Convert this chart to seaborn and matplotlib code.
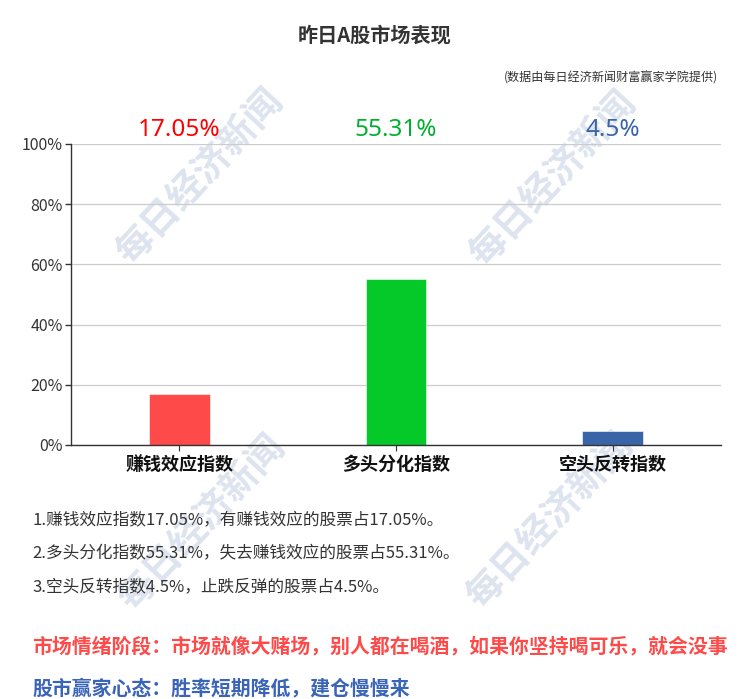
import pandas as pd
import seaborn as sns
import matplotlib.pyplot as plt
from matplotlib.ticker import FuncFormatter
import matplotlib.transforms as mtransforms

sns.set_style("white")
plt.rcParams['font.family'] = ['Noto Sans CJK SC', 'DejaVu Sans']

# Data
categories = ['赚钱效应指数', '多头分化指数', '空头反转指数']
values = [17.05, 55.31, 4.5]
value_labels = ['17.05%', '55.31%', '4.5%']
bar_colors = ['#ff4a4a', '#05c928', '#3a64a8']
label_colors = ['#ff0000', '#00b030', '#3a64a8']
notes = ['1.赚钱效应指数17.05%，有赚钱效应的股票占17.05%。',
         '2.多头分化指数55.31%，失去赚钱效应的股票占55.31%。',
         '3.空头反转指数4.5%，止跌反弹的股票占4.5%。']
mood = '市场情绪阶段：市场就像大赌场，别人都在喝酒，如果你坚持喝可乐，就会没事'
mindset = '股市赢家心态：胜率短期降低，建仓慢慢来'

df = pd.DataFrame({'cat': categories, 'val': values})

fig = plt.figure(figsize=(7.5, 6.99), dpi=100)

# background axes holding the watermarks
bg = fig.add_axes([0, 0, 1, 1], zorder=-1)
bg.set_axis_off()
bg.set_xlim(0, 750)
bg.set_ylim(699, 0)
for (wx, wy) in [(200, 176), (553, 178), (202, 522), (550, 520)]:
    bg.text(wx, wy, '每日经济新闻', fontsize=27, fontweight='bold',
            color='#dde4ef', rotation=47, ha='center', va='center')

ax = fig.add_axes([0.0947, 0.3634, 0.8666, 0.4306])
sns.barplot(data=df, x='cat', y='val', hue='cat', palette=bar_colors,
            width=0.28, legend=False, ax=ax, saturation=1,
            edgecolor='#ffffff', linewidth=0.4)

ax.set_ylim(0, 100)
ax.set_xlim(-0.5, 2.5)
ax.yaxis.set_major_formatter(FuncFormatter(lambda v, _: f'{v:.0f}%'))
ax.set_yticks([0, 20, 40, 60, 80, 100])
ax.grid(axis='y', color='#cccccc', linewidth=0.9)
ax.set_axisbelow(True)
ax.patch.set_alpha(0)
for s in ['top', 'right']:
    ax.spines[s].set_visible(False)
for s in ['left', 'bottom']:
    ax.spines[s].set_color('#333333')
    ax.spines[s].set_linewidth(1.0)
ax.tick_params(axis='y', length=4, width=1, color='#333333', labelsize=11.5,
               labelcolor='#333333', pad=2, left=True)
ax.tick_params(axis='x', length=4, width=0.8, color='#333333', labelsize=13,
               labelcolor='#111111', pad=3, bottom=True)
for t in ax.get_xticklabels():
    t.set_fontweight('bold')
ax.set_xlabel('')
ax.set_ylabel('')

# value labels above the chart
trans = mtransforms.blended_transform_factory(ax.transData, ax.transAxes)
for i, (lab, c) in enumerate(zip(value_labels, label_colors)):
    ax.text(i, 1.047, lab, transform=trans, ha='center', va='center',
            fontsize=17.5, color=c, family=['Noto Sans', 'DejaVu Sans'])

# titles
fig.text(0.5, 1 - 35 / 699, '昨日A股市场表现', ha='center', va='center',
         fontsize=14.5, fontweight='bold', color='#333333')
fig.text(718 / 750, 1 - 78 / 699, '(数据由每日经济新闻财富赢家学院提供)', ha='right',
         va='center', fontsize=8.7, color='#333333')

# notes
for y, n in zip([521, 554, 587], notes):
    fig.text(32 / 750, 1 - y / 699, n, ha='left', va='center', fontsize=12,
             color='#333333')
fig.text(32 / 750, 1 - 646 / 699, mood, ha='left', va='center', fontsize=14.3,
         fontweight='bold', color='#ff4a4a')
fig.text(32 / 750, 1 - 688 / 699, mindset, ha='left', va='center', fontsize=14.3,
         fontweight='bold', color='#3a64b8')

fig.savefig('out.png', dpi=100)
